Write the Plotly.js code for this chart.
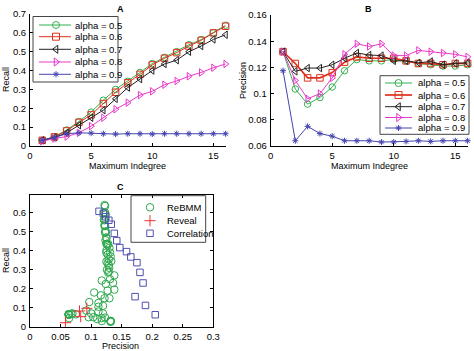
<!DOCTYPE html>
<html>
<head>
<meta charset="utf-8">
<script src="https://cdn.plot.ly/plotly-3.0.1.min.js"></script>
<style>html,body{margin:0;padding:0;background:#fff;}#chart{width:474px;height:351px;}</style>
</head>
<body>
<div id="chart"></div>
<script>
// ---- data ----
const indegree = [1,2,3,4,5,6,7,8,9,10,11,12,13,14,15,16];
const alphaLabels = ["alpha = 0.5","alpha = 0.6","alpha = 0.7","alpha = 0.8","alpha = 0.9"];
const methodLabels = ["ReBMM","Reveal","Correlation"];

// Panel A: Recall vs Maximum Indegree
const recall05 = [0.030,0.050,0.085,0.130,0.180,0.243,0.300,0.343,0.390,0.437,0.470,0.500,0.537,0.564,0.600,0.640];
const recall06 = [0.030,0.048,0.080,0.125,0.165,0.225,0.285,0.335,0.380,0.430,0.465,0.495,0.530,0.560,0.600,0.635];
const recall07 = [0.030,0.045,0.070,0.110,0.150,0.190,0.250,0.310,0.355,0.400,0.435,0.455,0.500,0.530,0.565,0.590];
const recall08 = [0.025,0.040,0.050,0.070,0.105,0.150,0.195,0.230,0.270,0.290,0.325,0.345,0.370,0.390,0.415,0.435];
const recall09 = [0.030,0.045,0.065,0.070,0.068,0.065,0.063,0.065,0.065,0.063,0.065,0.065,0.065,0.065,0.065,0.065];

// Panel B: Precision vs Maximum Indegree
const prec05 = [0.132,0.1035,0.092,0.097,0.105,0.1175,0.126,0.125,0.125,0.126,0.125,0.123,0.122,0.121,0.121,0.122];
const prec06 = [0.132,0.123,0.112,0.112,0.116,0.124,0.128,0.127,0.127,0.127,0.125,0.123,0.123,0.122,0.123,0.123];
const prec07 = [0.132,0.117,0.1195,0.1195,0.122,0.127,0.131,0.1295,0.129,0.125,0.125,0.1235,0.1245,0.122,0.123,0.1235];
const prec08 = [0.132,0.110,0.096,0.100,0.112,0.130,0.138,0.136,0.138,0.129,0.129,0.133,0.132,0.131,0.130,0.128];
const prec09 = [0.1175,0.064,0.075,0.0695,0.0675,0.064,0.064,0.064,0.063,0.063,0.0635,0.064,0.0635,0.064,0.064,0.064];

// Panel C: Precision vs Recall
const revealPrecision = [0.058,0.081,0.083,0.093];
const revealRecall    = [0.021,0.083,0.053,0.097];
const corrPrecision = [0.113,0.120,0.124,0.129,0.133,0.138,0.142,0.147,0.158,0.165,0.175,0.180,0.185,0.172,0.189,0.205];
const corrRecall    = [0.607,0.596,0.579,0.560,0.539,0.491,0.453,0.416,0.395,0.367,0.337,0.286,0.230,0.158,0.112,0.063];

const recallSets = [recall05,recall06,recall07,recall08,recall09];
const precSets = [prec05,prec06,prec07,prec08,prec09];

// ---- styles ----
const colors = ["#33b050","#e0301e","#222222","#e838c8","#4444b0"];
const symbols = ["circle-open","square-open","triangle-left-open","triangle-right-open","asterisk-open"];
const mSizes = [6.5,6.5,6.5,6.5,5];
const widthsB = [1,1.7,1,1,1];
const cColors = ["#2fa84f","#f03030","#5050b0"];
const cSymbols = ["circle-open","cross-thin-open","square-open"];
const cSizes = [7.5,8,6.5];
const F = "Liberation Sans, Arial, sans-serif";
const W=474,H=351;
const px = v=>v/W, py = v=>1-v/H;

const traces = [];
for (let i=0;i<5;i++){
  traces.push({x:indegree,y:recallSets[i],type:"scatter",mode:"lines+markers",name:alphaLabels[i],
    xaxis:"x",yaxis:"y",showlegend:false,cliponaxis:false,
    line:{color:colors[i],width:1},marker:{symbol:symbols[i],size:mSizes[i],color:colors[i],line:{width:1,color:colors[i]}}});
}
for (let i=0;i<5;i++){
  traces.push({x:indegree,y:precSets[i],type:"scatter",mode:"lines+markers",name:alphaLabels[i],
    xaxis:"x2",yaxis:"y2",showlegend:false,cliponaxis:false,
    line:{color:colors[i],width:widthsB[i]},marker:{symbol:symbols[i],size:mSizes[i],color:colors[i],line:{width:1,color:colors[i]}}});
}
// ReBMM: pairs of (precision, recall) from panels A and B
const rebX = [].concat(...precSets), rebY = [].concat(...recallSets);
const cData = [[rebX,rebY],[revealPrecision,revealRecall],[corrPrecision,corrRecall]];
for (let i=0;i<3;i++){
  traces.push({x:cData[i][0],y:cData[i][1],type:"scatter",mode:"markers",name:methodLabels[i],xaxis:"x3",yaxis:"y3",
    showlegend:false,marker:{symbol:cSymbols[i],size:cSizes[i],color:cColors[i],line:{width:1,color:cColors[i]}}});
}

// ---- hand-built legends (MATLAB style, compact) on a hidden pixel-space overlay axis ----
const shapes = [], annotations = [];
const lF = {family:F,size:9.5,color:"#000"};
function legend(box, rows, lineX, markX, textX, labels, cols, syms, widths, sizes, showLine){
  shapes.push({type:"rect",xref:"paper",yref:"paper",x0:px(box[0]),x1:px(box[1]),y0:py(box[2]),y1:py(box[3]),
    line:{color:"#444",width:1},fillcolor:"rgba(0,0,0,0)",layer:"above"});
  for (let i=0;i<labels.length;i++){
    if (showLine) traces.push({x:[lineX[0],lineX[1]],y:[rows[i],rows[i]],xaxis:"x4",yaxis:"y4",mode:"lines",type:"scatter",
      showlegend:false,hoverinfo:"skip",line:{color:cols[i],width:widths[i]}});
    traces.push({x:[markX],y:[rows[i]],xaxis:"x4",yaxis:"y4",mode:"markers",type:"scatter",showlegend:false,hoverinfo:"skip",
      marker:{symbol:syms[i],size:sizes[i],color:cols[i],line:{width:1,color:cols[i]}}});
    annotations.push({text:labels[i],xref:"paper",yref:"paper",x:px(textX),y:py(rows[i]),xanchor:"left",yanchor:"middle",
      showarrow:false,font:lF});
  }
}
legend([33,118,16.5,82],[25,36.7,49.3,62,74.3],[39,71],56,73,alphaLabels,colors,symbols,[1,1,1,1,1],[7,7,7,7,5],true);
legend([380,469,75.7,134.3],[83,95,106.7,117.5,128],[385,412],398.5,416,alphaLabels,colors,symbols,widthsB,[7,7,7,7,5],true);
legend([131,205.7,195.7,242.3],[207.3,220.7,233.3],[0,0],150,164.5,methodLabels,cColors,cSymbols,[1,1,1],cSizes,false);

// titles and axis titles
const tF = {family:F,size:9,color:"#000"};
function ann(text,x,y,angle,font){annotations.push({text:text,xref:"paper",yref:"paper",x:px(x),y:py(y),
  xanchor:"center",yanchor:"middle",showarrow:false,textangle:angle||0,font:font||tF});}
const hF = {family:F,size:9,color:"#000"};
ann("<b>A</b>",120,9,0,hF); ann("<b>B</b>",368,9,0,hF); ann("<b>C</b>",120,187,0,hF);
ann("Maximum Indegree",128,166); ann("Maximum Indegree",369,166);
ann("Precision",120,345.5);
ann("Recall",6,80,-90); ann("Precision",243,80,-90); ann("Recall",6,261,-90);

const axBase = {showline:true,linecolor:"#000",linewidth:1,ticks:"inside",ticklen:3,tickcolor:"#000",
  showgrid:false,zeroline:false,ticklabelstandoff:1,tickfont:{family:F,size:9.5,color:"#000"}};

const layout = {
  width:W,height:H,margin:{l:0,r:0,t:0,b:0},paper_bgcolor:"#fff",plot_bgcolor:"rgba(0,0,0,0)",showlegend:false,
  xaxis:Object.assign({},axBase,{domain:[px(30),px(225.6)],range:[0,16],tickvals:[0,5,10,15],anchor:"y"}),
  yaxis:Object.assign({},axBase,{domain:[py(146),py(14)],range:[0,0.7],dtick:0.1,anchor:"x"}),
  xaxis2:Object.assign({},axBase,{domain:[px(270.7),px(467.6)],range:[0,16],tickvals:[0,5,10,15],anchor:"y2"}),
  yaxis2:Object.assign({},axBase,{domain:[py(146),py(15)],range:[0.06,0.16],dtick:0.02,anchor:"x2"}),
  xaxis3:Object.assign({},axBase,{domain:[px(30),px(213.3)],range:[0,0.3],dtick:0.05,anchor:"y3",mirror:"ticks"}),
  yaxis3:Object.assign({},axBase,{domain:[py(326.7),py(195)],range:[0,0.693],dtick:0.1,anchor:"x3",mirror:"ticks"}),
  xaxis4:{domain:[0,1],range:[0,W],visible:false,fixedrange:true,anchor:"y4"},
  yaxis4:{domain:[0,1],range:[H,0],visible:false,fixedrange:true,anchor:"x4"},
  shapes:shapes,
  annotations:annotations
};
Plotly.newPlot("chart",traces,layout,{displayModeBar:false,staticPlot:true});
</script>
</body>
</html>
